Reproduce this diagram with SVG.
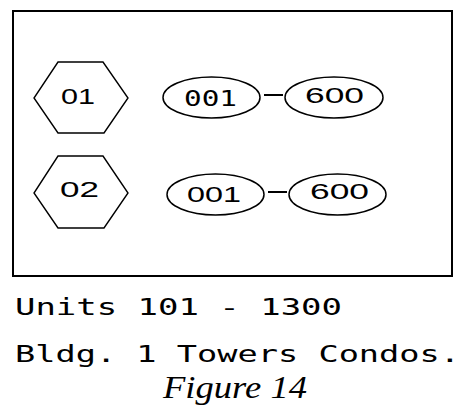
<svg xmlns="http://www.w3.org/2000/svg" width="469" height="415" viewBox="0 0 469 415">
<style>
.hex{fill:none;stroke:#000;stroke-width:1.4}
.ell{fill:none;stroke:#000;stroke-width:1.5}
.mono{font-family:"DejaVu Sans Mono","Liberation Mono",monospace;font-size:22px;fill:#000}
.plain{font-family:"Liberation Sans",Arial,sans-serif;font-size:22px;fill:#000}
.cap{font-family:"DejaVu Sans Mono","Liberation Mono",monospace;font-size:23px;fill:#000}
.fig{font-family:"Liberation Serif","Times New Roman",serif;font-style:italic;font-size:32px;fill:#000}
.conn{stroke:#000;stroke-width:2}
</style>
<rect width="469" height="415" fill="#fff"/>
<rect x="13" y="11" width="439" height="265" fill="none" stroke="#000" stroke-width="2"/>
<g id="hex01">
<polygon class="hex" points="58,62 103,62 128,98 104,133 58,133 34,98"/>
<text class="plain" x="61" y="104" textLength="34" lengthAdjust="spacingAndGlyphs">01</text>
</g>
<g id="hex02">
<polygon class="hex" points="58,156 103,156 128,193 104,228 58,228 34,193"/>
<text class="plain" x="60" y="197" textLength="39" lengthAdjust="spacingAndGlyphs">02</text>
</g>
<g id="u1a">
<ellipse class="ell" cx="211.5" cy="97.5" rx="48.5" ry="20.5"/>
<text class="mono" x="184" y="106" textLength="53" lengthAdjust="spacingAndGlyphs">001</text>
</g>
<g id="u1b">
<ellipse class="ell" cx="334" cy="97.5" rx="49" ry="20.5"/>
<text class="plain" x="305" y="103" textLength="59" lengthAdjust="spacingAndGlyphs">600</text>
</g>
<g id="u2a">
<ellipse class="ell" cx="215.5" cy="194.5" rx="48.5" ry="20.5"/>
<text class="plain" x="187" y="202" textLength="54" lengthAdjust="spacingAndGlyphs">001</text>
</g>
<g id="u2b">
<ellipse class="ell" cx="337.5" cy="194.5" rx="48.5" ry="20.5"/>
<text class="plain" x="310" y="199" textLength="59" lengthAdjust="spacingAndGlyphs">600</text>
</g>
<g id="connectors">
<line class="conn" x1="264" y1="95" x2="283" y2="95"/>
<line class="conn" x1="268" y1="192" x2="287" y2="192"/>
</g>
<text class="cap" x="15" y="315" textLength="327" lengthAdjust="spacingAndGlyphs">Units 101 - 1300</text>
<text class="cap" x="15" y="362" textLength="445" lengthAdjust="spacingAndGlyphs">Bldg. 1 Towers Condos.</text>
<text class="fig" x="163" y="398" textLength="144" lengthAdjust="spacingAndGlyphs">Figure 14</text>
</svg>
